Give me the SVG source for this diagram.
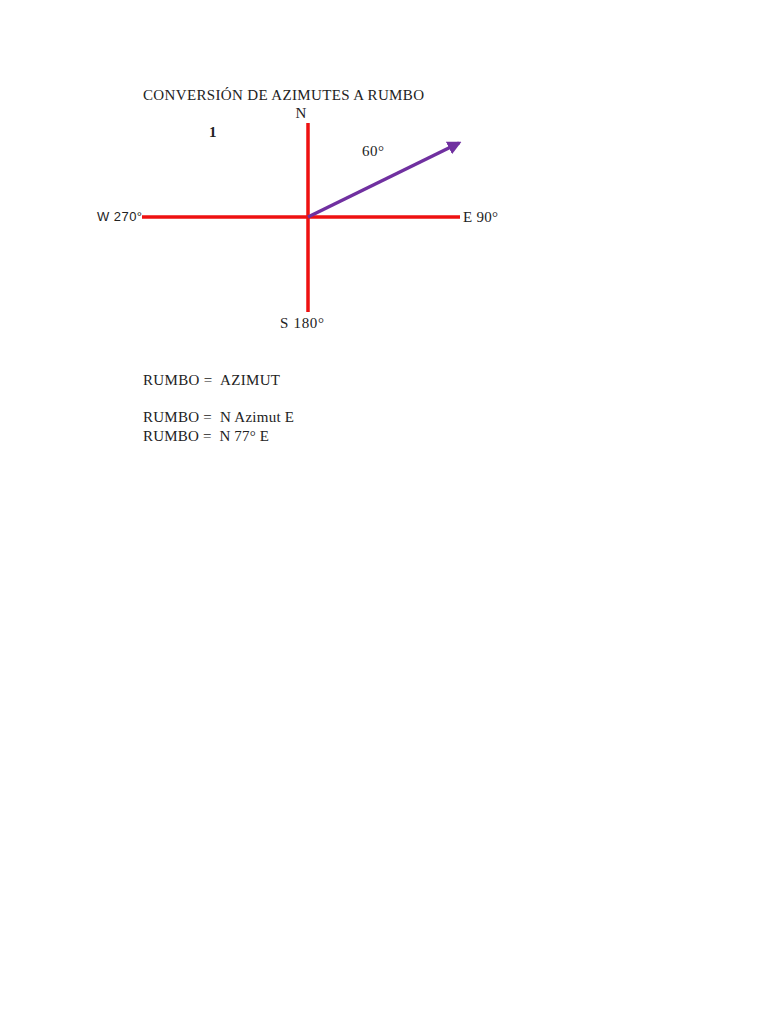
<svg xmlns="http://www.w3.org/2000/svg" width="768" height="1024" viewBox="0 0 768 1024">
<style>
.t{font-family:"Liberation Serif","DejaVu Serif",serif;font-size:15px;fill:#222}
.s{font-family:"Liberation Sans","DejaVu Sans",sans-serif;font-size:13px;fill:#222}
.red{stroke:#ee1111;stroke-width:3.5;fill:none}
</style>
<defs>
<marker id="ah" viewBox="0 0 10 10" refX="8" refY="5" markerWidth="4" markerHeight="4" orient="auto">
<path d="M0,0 L10,5 L0,10 z" fill="#7030a0"/>
</marker>
</defs>
<rect width="768" height="1024" fill="#fff"/>
<text class="t" x="143" y="100" textLength="281">CONVERSIÓN DE AZIMUTES A RUMBO</text>
<g id="axes">
<line class="red" x1="308" y1="123" x2="308" y2="312"/>
<line class="red" x1="142" y1="217" x2="460" y2="217"/>
</g>
<g id="connectors">
<line x1="308" y1="217" x2="459" y2="143" stroke="#7030a0" stroke-width="3.5" marker-end="url(#ah)"/>
</g>
<g id="labels">
<text class="t" x="301" y="118" text-anchor="middle">N</text>
<text class="t" x="209" y="137" font-weight="bold">1</text>
<text class="t" x="362" y="156" textLength="22">60°</text>
<text class="s" x="97" y="221" textLength="45">W 270°</text>
<text class="t" x="463" y="222" textLength="35">E 90°</text>
<text class="t" x="280" y="328" textLength="44">S 180°</text>
</g>
<g id="text">
<text class="t" x="143" y="385" xml:space="preserve" textLength="137">RUMBO =  AZIMUT</text>
<text class="t" x="143" y="422" xml:space="preserve" textLength="151">RUMBO =  N Azimut E</text>
<text class="t" x="143" y="441" xml:space="preserve" textLength="126">RUMBO =  N 77° E</text>
</g>
</svg>
